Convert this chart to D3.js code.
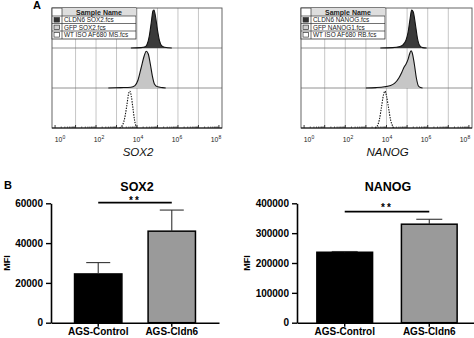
<!DOCTYPE html>
<html>
<head>
<meta charset="utf-8">
<script src="https://cdn.jsdelivr.net/npm/d3@7"></script>
<style>
  body { margin: 0; background: #fff; }
  svg { display: block; font-family: "Liberation Sans", Arial, sans-serif; }
</style>
</head>
<body>
<svg id="fig" width="474" height="338"></svg>
<script>
// Histogrammes de cytométrie : [log10 intensité, fréquence relative]
const sox2Cldn6 = [[3.7,0],[4.2,0.01],[4.4,0.03],[4.5,0.1],[4.6,0.3],[4.7,0.65],[4.78,0.93],[4.83,0.95],[4.9,0.8],[5.0,0.45],[5.1,0.18],[5.2,0.06],[5.35,0.02],[5.7,0]];
const sox2Gfp = [[2.6,0],[3.2,0.01],[3.7,0.02],[3.9,0.06],[4.05,0.2],[4.2,0.5],[4.35,0.8],[4.45,0.92],[4.55,0.85],[4.65,0.6],[4.75,0.3],[4.85,0.1],[5.0,0.03],[5.25,0.01],[5.4,0]];
const sox2Iso = [[3.15,0],[3.3,0.08],[3.4,0.25],[3.5,0.55],[3.6,0.88],[3.65,0.92],[3.72,0.8],[3.8,0.5],[3.88,0.2],[3.95,0.05],[4.05,0]];

const nanogCldn6 = [[3.7,0],[4.3,0.01],[4.6,0.03],[4.8,0.08],[4.95,0.2],[5.05,0.4],[5.15,0.75],[5.22,0.95],[5.3,0.9],[5.4,0.6],[5.5,0.25],[5.6,0.07],[5.75,0.01],[5.95,0]];
const nanogGfp = [[3.0,0],[3.5,0.01],[3.9,0.03],[4.2,0.06],[4.4,0.12],[4.6,0.25],[4.75,0.4],[4.85,0.52],[4.95,0.6],[5.05,0.72],[5.12,0.85],[5.19,0.93],[5.25,0.88],[5.35,0.6],[5.45,0.25],[5.55,0.05],[5.65,0.01],[5.75,0]];
const nanogIso = [[3.45,0],[3.55,0.05],[3.65,0.2],[3.75,0.5],[3.85,0.82],[3.93,0.92],[4.0,0.8],[4.1,0.5],[4.2,0.2],[4.3,0.05],[4.4,0]];

const sox2Samples = ["CLDN6 SOX2.fcs", "GFP SOX2.fcs", "WT ISO AF680 MS.fcs"];
const nanogSamples = ["CLDN6 NANOG.fcs", "GFP NANOG1.fcs", "WT ISO AF680 RB.fcs"];
const decadeLabels = [0, 2, 4, 6, 8];

// Histogrammes MFI
const groups = ["AGS-Control", "AGS-Cldn6"];
const sox2Mfi = [24500, 46000];
const sox2Err = [5700, 10600];
const sox2Ticks = [0, 20000, 40000, 60000];
const nanogMfi = [236000, 330000];
const nanogErr = [2500, 16500];
const nanogTicks = [0, 100000, 200000, 300000, 400000];

const svg = d3.select("#fig");

// Lettres des panneaux
svg.append("text").attr("x", 33).attr("y", 9).attr("font-size", 11)
  .attr("font-weight", "bold").text("A");
svg.append("text").attr("x", 4).attr("y", 189).attr("font-size", 11)
  .attr("font-weight", "bold").text("B");

function drawFlow(x0, x1, tracks, samples, title) {
  const top = 8, trackH = 40, bottom = top + trackH * 3;
  const x = d3.scaleLinear().domain([-0.15, 8.15]).range([x0, x1]);
  // position des étiquettes de décade
  const xl = d3.scaleLinear().domain([0, 8]).range([x0 + 8, x0 + 164]);
  const g = svg.append("g");

  // grille verticale par décade
  g.selectAll(".grid").data(d3.range(1, 8)).join("line")
    .attr("x1", d => x(d)).attr("x2", d => x(d))
    .attr("y1", top).attr("y2", bottom)
    .attr("stroke", "#b8b8b8").attr("stroke-width", 0.8);

  // séparations entre les pistes
  g.selectAll(".div").data([1, 2]).join("line")
    .attr("x1", x0).attr("x2", x1)
    .attr("y1", d => top + d * trackH).attr("y2", d => top + d * trackH)
    .attr("stroke", "#777").attr("stroke-width", 0.8);

  const styles = [
    { fill: "#3a3a3a", stroke: "#111", dash: null },
    { fill: "#c6c6c6", stroke: "#111", dash: null },
    { fill: "none", stroke: "#111", dash: "1.4,1.2" }
  ];

  tracks.forEach((data, i) => {
    const yb = top + (i + 1) * trackH;
    const y = d3.scaleLinear().domain([0, 1]).range([yb, yb - trackH]);
    const area = d3.area().curve(d3.curveMonotoneX)
      .x(d => x(d[0])).y0(yb).y1(d => y(d[1]));
    const line = d3.line().curve(d3.curveMonotoneX)
      .x(d => x(d[0])).y(d => y(d[1]));
    if (styles[i].fill !== "none") {
      g.append("path").datum(data).attr("d", area).attr("fill", styles[i].fill);
    }
    g.append("path").datum(data).attr("d", line)
      .attr("fill", "none").attr("stroke", styles[i].stroke)
      .attr("stroke-width", 1.1)
      .attr("stroke-dasharray", styles[i].dash);
  });

  // cadre
  g.append("rect").attr("x", x0).attr("y", top)
    .attr("width", x1 - x0).attr("height", bottom - top)
    .attr("fill", "none").attr("stroke", "#555").attr("stroke-width", 0.9);
  g.append("line").attr("x1", x0).attr("x2", x1).attr("y1", bottom).attr("y2", bottom)
    .attr("stroke", "#111").attr("stroke-width", 1.2);

  // graduations log mineures et majeures
  const minor = [];
  d3.range(0, 8).forEach(k => d3.range(2, 10).forEach(m => minor.push(k + Math.log10(m))));
  g.selectAll(".mt").data(minor).join("line")
    .attr("x1", d => x(d)).attr("x2", d => x(d))
    .attr("y1", bottom).attr("y2", bottom - 1.5)
    .attr("stroke", "#222").attr("stroke-width", 0.7);
  g.selectAll(".Mt").data(d3.range(0, 9)).join("line")
    .attr("x1", d => x(d)).attr("x2", d => x(d))
    .attr("y1", bottom).attr("y2", bottom - 3)
    .attr("stroke", "#222").attr("stroke-width", 0.9);

  const lab = g.selectAll(".lab").data(decadeLabels).join("text")
    .attr("x", d => xl(d)).attr("y", bottom + 14)
    .attr("text-anchor", "middle").attr("font-size", 6.8).attr("fill", "#222");
  lab.append("tspan").text("10");
  lab.append("tspan").attr("dy", -3).attr("font-size", 5).text(d => d);

  g.append("text").attr("x", (x0 + x1) / 2 + 1).attr("y", bottom + 28)
    .attr("text-anchor", "middle").attr("font-size", 11.5)
    .attr("font-style", "italic").attr("fill", "#111").text(title);

  // légende des échantillons
  const lx = x0, lw = 84, sw = 10;
  const rows = [top, top + 8, top + 15.5, top + 23, top + 31];
  const leg = g.append("g");
  leg.append("rect").attr("x", lx).attr("y", top).attr("width", lw).attr("height", rows[4] - top)
    .attr("fill", "#fff").attr("stroke", "#333").attr("stroke-width", 0.8);
  leg.append("rect").attr("x", lx + sw).attr("y", top).attr("width", lw - sw).attr("height", 8)
    .attr("fill", "#dedede");
  leg.selectAll(".rl").data(rows.slice(1, 4)).join("line")
    .attr("x1", lx).attr("x2", lx + lw).attr("y1", d => d).attr("y2", d => d)
    .attr("stroke", "#333").attr("stroke-width", 0.7);
  leg.append("line").attr("x1", lx + sw).attr("x2", lx + sw)
    .attr("y1", top).attr("y2", rows[4]).attr("stroke", "#333").attr("stroke-width", 0.7);
  leg.append("text").attr("x", lx + sw + (lw - sw) / 2).attr("y", top + 6.5)
    .attr("text-anchor", "middle").attr("font-size", 7).attr("font-weight", "bold")
    .attr("fill", "#222").text("Sample Name");
  const swFill = ["#333", "#cfcfcf", "#fff"];
  samples.forEach((s, i) => {
    const ry = rows[i + 1];
    leg.append("rect").attr("x", lx + 2).attr("y", ry + 1.6).attr("width", 5.5).attr("height", 4.5)
      .attr("fill", swFill[i]).attr("stroke", "#333").attr("stroke-width", 0.7);
    leg.append("text").attr("x", lx + sw + 2).attr("y", ry + 6)
      .attr("font-size", 6.4).attr("fill", "#222").text(s);
  });
}

drawFlow(52, 222, [sox2Cldn6, sox2Gfp, sox2Iso], sox2Samples, "SOX2");
drawFlow(301, 472, [nanogCldn6, nanogGfp, nanogIso], nanogSamples, "NANOG");

function drawBars(opt) {
  const y = d3.scaleLinear().domain([0, opt.max]).range([322.7, 203.3]);
  const x = d3.scaleBand().domain(groups).range(opt.xr)
    .paddingInner(opt.pi).paddingOuter(opt.po);
  const g = svg.append("g");

  g.selectAll(".bar").data(groups).join("rect")
    .attr("x", d => x(d)).attr("width", x.bandwidth())
    .attr("y", (d, i) => y(opt.vals[i]))
    .attr("height", (d, i) => y(0) - y(opt.vals[i]))
    .attr("fill", (d, i) => i === 0 ? "#000" : "#9a9a9a")
    .attr("stroke", "#000").attr("stroke-width", 1.5);

  // barres d'erreur (vers le haut seulement)
  const cap = opt.cap;
  groups.forEach((d, i) => {
    const cx = x(d) + x.bandwidth() / 2;
    const v = opt.vals[i], e = opt.vals[i] + opt.errs[i];
    g.append("line").attr("x1", cx).attr("x2", cx).attr("y1", y(v)).attr("y2", y(e))
      .attr("stroke", "#333").attr("stroke-width", 1.1);
    g.append("line").attr("x1", cx - cap).attr("x2", cx + cap).attr("y1", y(e)).attr("y2", y(e))
      .attr("stroke", "#333").attr("stroke-width", 1.1);
  });

  const ya = g.append("g").attr("transform", `translate(${opt.xr[0]},0)`)
    .call(d3.axisLeft(y).tickValues(opt.ticks).tickSize(5).tickSizeOuter(0).tickFormat(d3.format("d")));
  ya.select(".domain").attr("stroke-width", 1.6);
  ya.selectAll(".tick line").attr("stroke-width", 1.4);
  ya.selectAll("text").attr("font-size", 10).attr("font-weight", "bold")
    .attr("font-family", "Liberation Sans, Arial, sans-serif").attr("fill", "#000");

  const xa = g.append("g").attr("transform", `translate(0,${y(0)})`)
    .call(d3.axisBottom(x).tickSize(4).tickSizeOuter(0));
  xa.select(".domain").attr("stroke-width", 1.6);
  xa.selectAll(".tick line").attr("stroke-width", 1.4);
  xa.selectAll("text").attr("font-size", 10).attr("font-weight", "bold")
    .attr("font-family", "Liberation Sans, Arial, sans-serif").attr("fill", "#000")
    .attr("dy", 5.3);

  g.append("text").attr("transform", `translate(${opt.mfiX},263) rotate(-90)`)
    .attr("text-anchor", "middle").attr("font-size", 9).attr("font-weight", "bold").text("MFI");

  g.append("text").attr("x", opt.titleX).attr("y", 190.5).attr("text-anchor", "middle")
    .attr("font-size", 12.5).attr("font-weight", "bold").text(opt.title);

  // ligne de significativité
  const c0 = x(groups[0]) + x.bandwidth() / 2, c1 = x(groups[1]) + x.bandwidth() / 2;
  g.append("line").attr("x1", c0).attr("x2", c1).attr("y1", opt.sigY).attr("y2", opt.sigY)
    .attr("stroke", "#000").attr("stroke-width", 1.8);
  g.append("text").attr("x", (c0 + c1) / 2).attr("y", opt.sigY + opt.starShift)
    .attr("text-anchor", "middle").attr("font-size", 10).attr("font-weight", "bold")
    .attr("letter-spacing", 2).text("**");
}

drawBars({ xr: [51, 219], pi: 0.356, po: 0.32, max: 60000, vals: sox2Mfi, errs: sox2Err,
  ticks: sox2Ticks, cap: 12, title: "SOX2", titleX: 137, sigY: 202.7, starShift: 0.8, mfiX: 10 });
drawBars({ xr: [297, 477], pi: 0.341, po: 0.235, max: 400000, vals: nanogMfi, errs: nanogErr,
  ticks: nanogTicks, cap: 13, title: "NANOG", titleX: 388, sigY: 211.7, starShift: -1, mfiX: 250 });
</script>
</body>
</html>
